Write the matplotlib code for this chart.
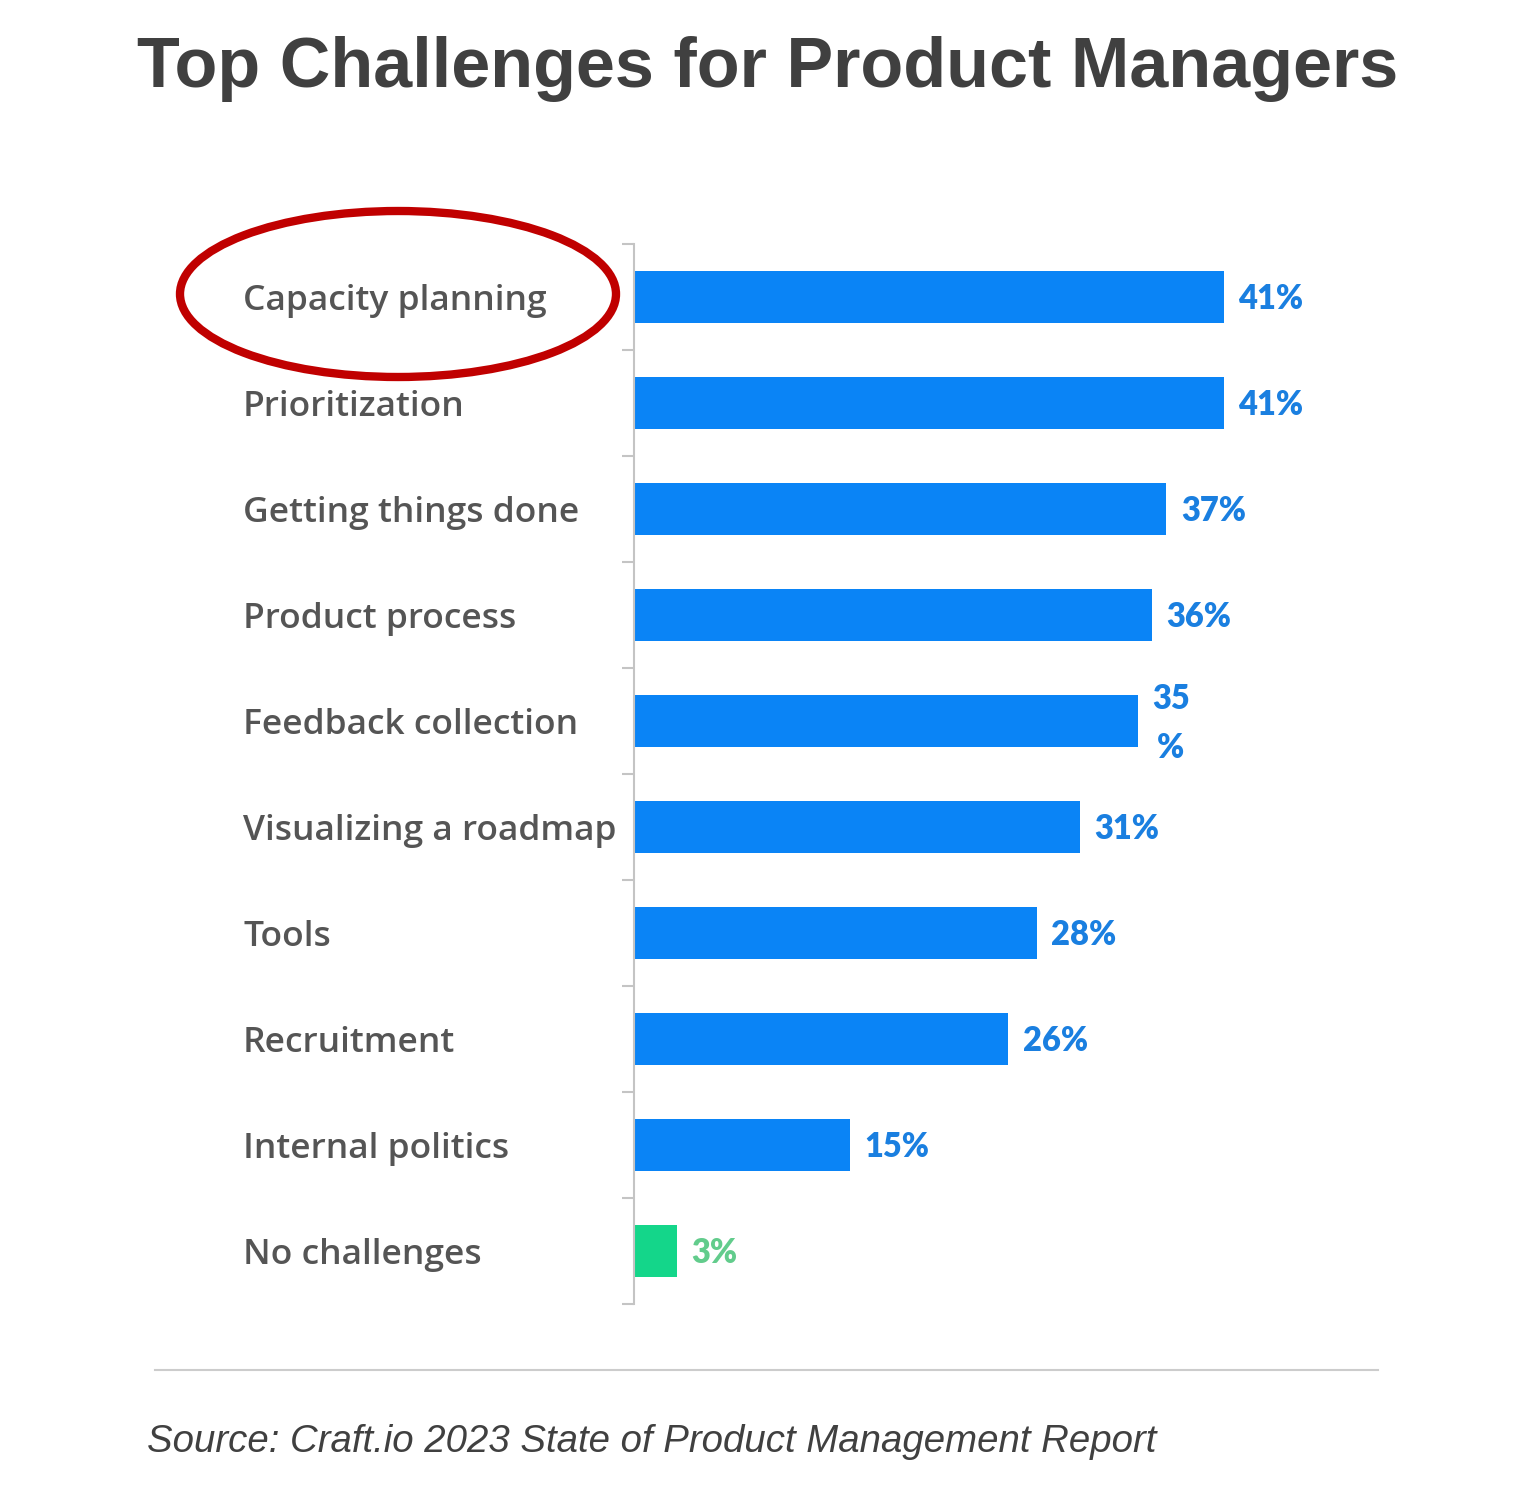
import matplotlib.pyplot as plt
from matplotlib.patches import Ellipse
from matplotlib.lines import Line2D

# Daten
categories = ["Capacity planning", "Prioritization", "Getting things done", "Product process",
              "Feedback collection", "Visualizing a roadmap", "Tools", "Recruitment",
              "Internal politics", "No challenges"]
values = [41, 41, 37, 36, 35, 31, 28, 26, 15, 3]
value_labels = ["41%", "41%", "37%", "36%", "35\n%", "31%", "28%", "26%", "15%", "3%"]

blue = "#0a84f6"
green = "#14d68a"

fig = plt.figure(figsize=(15.36, 14.86), dpi=100)
ax = fig.add_axes([634 / 1536, 1 - 1304 / 1486, 766 / 1536, 1060 / 1486])

ypos = list(range(len(categories)))
colors = [blue] * (len(values) - 1) + [green]
ax.barh(ypos, values, height=0.49, color=colors)

ax.set_xlim(0, 766 / 14.39)
ax.set_ylim(len(categories) - 0.5, -0.5)

# Werte neben den Balken
for i, (v, lab) in enumerate(zip(values, value_labels)):
    c = "#62cc8c" if i == len(values) - 1 else "#1a7fe0"
    ax.text(v + 1.0, i + 0.02, lab, va="center", ha="left", fontsize=23.5, fontweight="heavy",
            color=c, family="Lato", linespacing=1.65, multialignment="center")

# Achse: nur linke Linie mit Strichen zwischen den Kategorien
for s in ["top", "right", "bottom"]:
    ax.spines[s].set_visible(False)
ax.spines["left"].set_color("#c4c4c4")
ax.spines["left"].set_linewidth(1.5)
ax.set_xticks([])
ax.set_yticks([i - 0.5 for i in range(len(categories) + 1)])
ax.set_yticklabels([])
ax.tick_params(axis="y", length=8.6, width=1.5, color="#c4c4c4", direction="out")

# Kategorien links
for i, cat in enumerate(categories):
    y_fig = 1 - (301 + i * 106) / 1486
    fig.text(243 / 1536, y_fig, cat, ha="left", va="center", fontsize=25.5,
             fontweight="semibold", color="#555555", family="Open Sans")

# Titel
fig.text(0.5, 1 - 69 / 1486, "Top Challenges for Product Managers", ha="center", va="center",
         fontsize=50.5, fontweight="bold", color="#404040", family="Liberation Sans")

# Markierung
fig.patches.append(Ellipse((398 / 1536, 1 - 294 / 1486), 436 / 1536, 166 / 1486,
                           transform=fig.transFigure, fill=False, edgecolor="#c00000",
                           linewidth=6))

# Trennlinie und Quelle
fig.lines.append(Line2D([155 / 1536, 1378 / 1536], [1 - 1370 / 1486] * 2,
                        transform=fig.transFigure, color="#cccccc", linewidth=1.5))
fig.text(147 / 1536, 1 - 1442 / 1486, "Source: Craft.io 2023 State of Product Management Report",
         ha="left", va="center", fontsize=27.6, style="italic", color="#404040",
         family="Liberation Sans")

fig.savefig("out.png", dpi=100)
